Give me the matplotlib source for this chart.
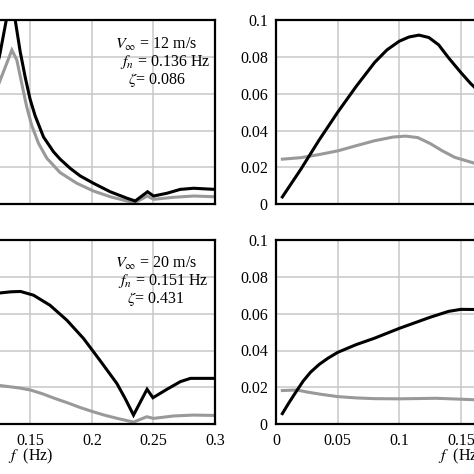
import matplotlib
matplotlib.use("Agg")
import matplotlib.pyplot as plt
from matplotlib.ticker import FixedLocator, FixedFormatter

plt.rcParams['font.family'] = ['Liberation Serif', 'DejaVu Serif']
plt.rcParams['mathtext.fontset'] = 'stix'

# ---------------- data ----------------
# Left panels (response spectra, frequency in Hz)
f12_black = [0.118, 0.1254, 0.1344, 0.1417, 0.1458, 0.1498, 0.1539, 0.1607, 0.1688, 0.1742,
             0.1824, 0.1905, 0.2013, 0.2149, 0.2285, 0.2352, 0.2452, 0.2501, 0.2610,
             0.2718, 0.2826, 0.300]
v12_black = [0.60, 0.82, 1.14, 0.83, 0.69, 0.57, 0.48, 0.365, 0.285, 0.245,
             0.195, 0.154, 0.114, 0.068, 0.033, 0.018, 0.068, 0.045, 0.06,
             0.081, 0.087, 0.081]
f12_grey = [0.118, 0.125, 0.135, 0.139, 0.143, 0.147, 0.151, 0.1566, 0.1634, 0.1742,
            0.1878, 0.2013, 0.2149, 0.2285, 0.235, 0.245, 0.250, 0.2663, 0.2826, 0.300]
v12_grey = [0.55, 0.665, 0.837, 0.783, 0.656, 0.53, 0.43, 0.331, 0.25, 0.172,
            0.114, 0.072, 0.041, 0.018, 0.009, 0.045, 0.027, 0.038, 0.045, 0.041]

f20_black = [0.118, 0.1254, 0.134, 0.142, 0.1525, 0.166, 0.1797, 0.1932, 0.2067, 0.2203,
             0.227, 0.2338, 0.2448, 0.2496, 0.261, 0.2718, 0.280, 0.300]
v20_black = [0.70, 0.712, 0.718, 0.72, 0.70, 0.645, 0.564, 0.465, 0.345, 0.221,
             0.14, 0.05, 0.19, 0.144, 0.19, 0.231, 0.249, 0.249]
f20_grey = [0.118, 0.1254, 0.14, 0.15, 0.16, 0.17, 0.18, 0.19, 0.20, 0.21, 0.22,
            0.2338, 0.2446, 0.250, 0.2662, 0.2826, 0.300]
v20_grey = [0.215, 0.21, 0.198, 0.186, 0.165, 0.14, 0.117, 0.092, 0.07, 0.05, 0.033,
            0.012, 0.041, 0.032, 0.045, 0.05, 0.048]

# Right panels
fr12_black = [0.005, 0.02, 0.035, 0.05, 0.065, 0.08, 0.09, 0.10, 0.108, 0.116, 0.124,
              0.132, 0.14, 0.15, 0.158, 0.165]
vr12_black = [0.004, 0.019, 0.035, 0.050, 0.064, 0.077, 0.0838, 0.0885, 0.0908, 0.0918,
              0.0905, 0.0865, 0.0795, 0.0715, 0.0655, 0.061]
fr12_grey = [0.005, 0.02, 0.035, 0.05, 0.065, 0.08, 0.095, 0.105, 0.115, 0.125, 0.135,
             0.145, 0.155, 0.165]
vr12_grey = [0.0245, 0.0253, 0.027, 0.029, 0.0318, 0.0345, 0.0365, 0.037, 0.0362, 0.033,
             0.029, 0.0255, 0.0235, 0.0215]

fr20_black = [0.005, 0.01, 0.016, 0.022, 0.028, 0.035, 0.042, 0.05, 0.065, 0.08, 0.10,
              0.125, 0.14, 0.15, 0.165]
vr20_black = [0.0058, 0.0113, 0.0175, 0.0235, 0.0283, 0.0325, 0.0358, 0.0390, 0.0432,
              0.0467, 0.052, 0.058, 0.0612, 0.0623, 0.0622]
fr20_grey = [0.005, 0.017, 0.025, 0.036, 0.05, 0.065, 0.08, 0.10, 0.13, 0.15, 0.165]
vr20_grey = [0.0183, 0.0186, 0.0175, 0.0163, 0.015, 0.0143, 0.0139, 0.0138, 0.0141,
             0.0136, 0.0132]

xticks = [0, 0.05, 0.1, 0.15, 0.2, 0.25, 0.3]
xticklabels_left = ['', '', '', '0.15', '0.2', '0.25', '0.3']
xticklabels_right = ['0', '0.05', '0.1', '0.15', '', '', '']
yticks_r = [0, 0.02, 0.04, 0.06, 0.08, 0.1]
yticklabels_r = ['0', '0.02', '0.04', '0.06', '0.08', '0.1']
yticks_l = [0, 0.2, 0.4, 0.6, 0.8, 1.0]

ann12 = [r"$V_\infty$ = 12 m/s", r"$f_n$ = 0.136 Hz", r"$\zeta$= 0.086"]
ann20 = [r"$V_\infty$ = 20 m/s", r"$f_n$ = 0.151 Hz", r"$\zeta$= 0.431"]

# ---------------- figure ----------------
W = 474
fig = plt.figure(figsize=(4.74, 4.74), dpi=100)

def pos(left_px, top_px, right_px, bottom_px):
    return [left_px / W, (W - bottom_px) / W, (right_px - left_px) / W, (bottom_px - top_px) / W]

ax_tl = fig.add_axes(pos(-154.3, 20.0, 215.0, 204.3))
ax_tr = fig.add_axes(pos(276.2, 20.0, 645.5, 204.3))
ax_bl = fig.add_axes(pos(-154.3, 239.8, 215.0, 424.3))
ax_br = fig.add_axes(pos(276.2, 239.8, 645.5, 424.3))

BLACK = '#000000'
GREY = '#999999'
LW = 2.2
FS = 11.5

def style(ax, ylim, yticks, ylabels=None, xlabels=None, bottom_labels=False, left_labels=True):
    ax.set_xlim(0, 0.3)
    ax.set_ylim(*ylim)
    ax.xaxis.set_major_locator(FixedLocator(xticks))
    ax.yaxis.set_major_locator(FixedLocator(yticks))
    if ylabels is not None:
        ax.yaxis.set_major_formatter(FixedFormatter(ylabels))
    if xlabels is not None:
        ax.xaxis.set_major_formatter(FixedFormatter(xlabels))
    ax.grid(True, color='#c8c8c8', linewidth=1.1)
    ax.set_axisbelow(True)
    for s in ax.spines.values():
        s.set_linewidth(1.6)
        s.set_color('black')
    ax.tick_params(length=0, labelsize=FS, pad=6)
    ax.tick_params(axis='y', labelleft=left_labels)
    ax.tick_params(axis='x', labelbottom=bottom_labels, pad=6)
    if bottom_labels:
        ax.set_xlabel(r"$f$  (Hz)", fontsize=FS, labelpad=-1)

style(ax_tl, (0, 1), yticks_l, left_labels=False)
style(ax_bl, (0, 1), yticks_l, xlabels=xticklabels_left, bottom_labels=True, left_labels=False)
style(ax_tr, (0, 0.1), yticks_r, yticklabels_r)
style(ax_br, (0, 0.1), yticks_r, yticklabels_r, xlabels=xticklabels_right, bottom_labels=True)

ax_tl.plot(f12_grey, v12_grey, color=GREY, lw=LW, solid_joinstyle='miter')
ax_tl.plot(f12_black, v12_black, color=BLACK, lw=LW, solid_joinstyle='miter')
ax_bl.plot(f20_grey, v20_grey, color=GREY, lw=LW)
ax_bl.plot(f20_black, v20_black, color=BLACK, lw=LW, solid_joinstyle='miter')
ax_tr.plot(fr12_grey, vr12_grey, color=GREY, lw=LW)
ax_tr.plot(fr12_black, vr12_black, color=BLACK, lw=LW)
ax_br.plot(fr20_grey, vr20_grey, color=GREY, lw=LW)
ax_br.plot(fr20_black, vr20_black, color=BLACK, lw=LW)

def annotate(ax, lines, xs, ys):
    for t, x, y in zip(lines, xs, ys):
        ax.text(x, y, t, transform=ax.transAxes, fontsize=FS, ha='left', va='center',
                zorder=5)

def axfrac(px):
    return (px + 154.3) / 369.3

annotate(ax_tl, ann12, [axfrac(115), axfrac(120), axfrac(128)], [0.868, 0.77, 0.674])
annotate(ax_bl, ann20, [axfrac(115), axfrac(118.3), axfrac(126.7)], [0.874, 0.775, 0.681])

fig.savefig('out.png', dpi=100)
